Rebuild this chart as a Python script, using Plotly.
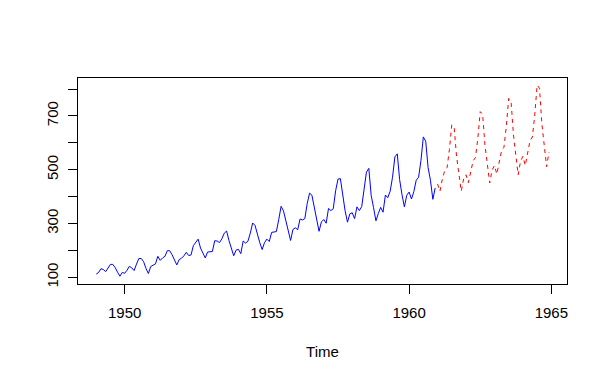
import plotly.graph_objects as go

# Observed monthly series (AirPassengers), starting Jan 1949, 12 per year
observed_start = 1949
observed = [
    112, 118, 132, 129, 121, 135, 148, 148, 136, 119, 104, 118,
    115, 126, 141, 135, 125, 149, 170, 170, 158, 133, 114, 140,
    145, 150, 178, 163, 172, 178, 199, 199, 184, 162, 146, 166,
    171, 180, 193, 181, 183, 218, 230, 242, 209, 191, 172, 194,
    196, 196, 236, 235, 229, 243, 264, 272, 237, 211, 180, 201,
    204, 188, 235, 227, 234, 264, 302, 293, 259, 229, 203, 229,
    242, 233, 267, 269, 270, 315, 364, 347, 312, 274, 237, 278,
    284, 277, 317, 313, 318, 374, 413, 405, 355, 306, 271, 306,
    315, 301, 356, 348, 355, 422, 465, 467, 404, 347, 305, 336,
    340, 318, 362, 348, 363, 435, 491, 505, 404, 359, 310, 337,
    360, 342, 406, 396, 420, 472, 548, 559, 463, 407, 362, 405,
    417, 391, 419, 461, 472, 535, 622, 606, 508, 461, 390, 432,
]

# Forecast series, starting Jan 1961
forecast_start = 1961
forecast = [
    447.0, 419.7, 464.9, 496.0, 507.5, 575.4, 666.6, 657.9, 550.3, 492.9, 420.2, 465.6,
    481.3, 451.7, 500.1, 533.4, 545.5, 618.2, 715.8, 706.2, 590.5, 528.7, 450.5, 499.0,
    515.7, 483.7, 535.3, 570.8, 583.5, 661.0, 765.1, 754.6, 630.7, 564.5, 480.8, 532.4,
    550.0, 515.7, 570.6, 608.1, 621.4, 703.8, 814.4, 802.9, 670.8, 600.3, 511.1, 565.8,
]
frequency = 12

x_ticks = [1950, 1955, 1960, 1965]
y_ticks = [100, 300, 500, 700]
y_minor_ticks = [200, 400, 600, 800]

obs_x = [observed_start + i / frequency for i in range(len(observed))]
fc_x = [forecast_start + i / frequency for i in range(len(forecast))]

FONT = "Liberation Sans, Arial, sans-serif"

fig = go.Figure()
fig.add_trace(go.Scatter(x=obs_x, y=observed, mode="lines",
                         line=dict(color="#0000FF", width=1), showlegend=False))
fig.add_trace(go.Scatter(x=fc_x, y=forecast, mode="lines",
                         line=dict(color="#FF0000", width=1, dash="4px,4px"),
                         showlegend=False))

# the page body has an 8px default margin (left/top), so the figure is 8px smaller
fig.update_layout(
    width=600, height=374,
    margin=dict(l=70, r=40.5, t=70, b=98),
    paper_bgcolor="white", plot_bgcolor="white",
    font=dict(family=FONT, size=15, color="black"),
    xaxis=dict(
        range=[1948.36, 1965.55], tickvals=x_ticks, ticktext=[str(v) for v in x_ticks],
        showgrid=False, zeroline=False, showline=True, mirror=True,
        linecolor="black", linewidth=1, ticks="outside", ticklen=9,
        tickcolor="black", tickwidth=1, ticklabelstandoff=6,
        title=dict(text="Time", standoff=26, font=dict(size=15)),
    ),
    yaxis=dict(
        range=[75.1, 841], tickvals=y_ticks, ticktext=[str(v) for v in y_ticks],
        showgrid=False, zeroline=False, showline=True, mirror=True,
        linecolor="black", linewidth=1, ticks="outside", ticklen=9,
        tickcolor="black", tickwidth=1, tickangle=-90, ticklabelstandoff=4,
        minor=dict(tickvals=y_minor_ticks, ticks="outside", ticklen=9,
                   tickcolor="black", tickwidth=1, showgrid=False),
    ),
)

fig.write_html("out.html")
